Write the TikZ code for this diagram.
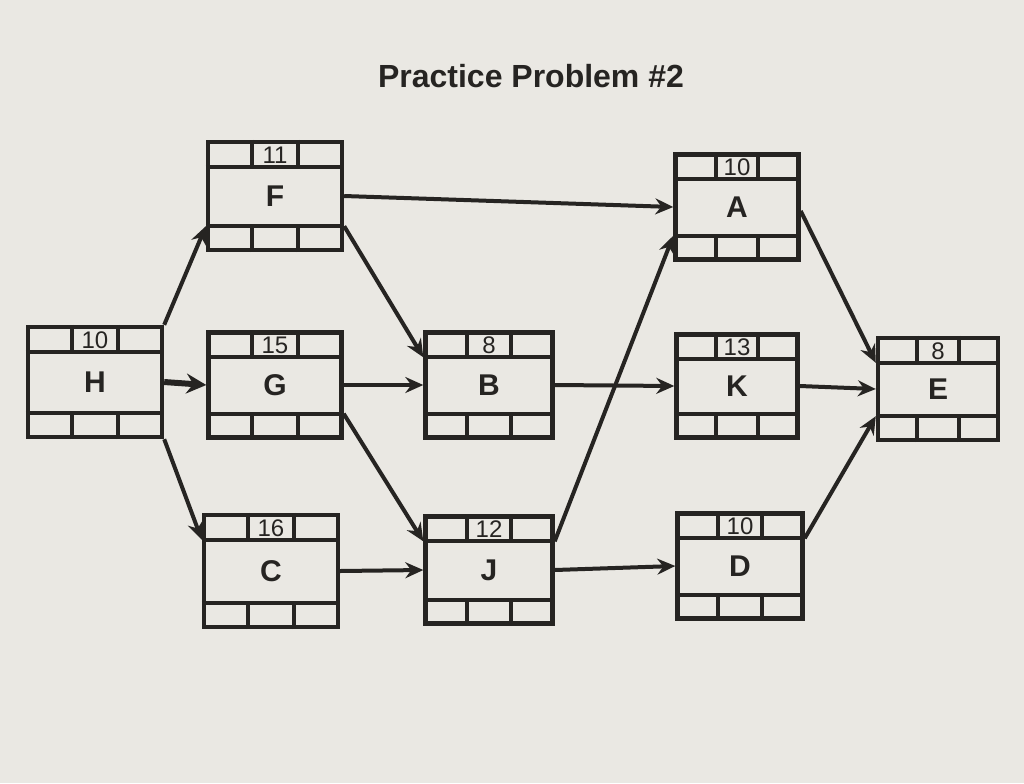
\documentclass[tikz,border=0pt]{standalone}
\usepackage{fontspec}
\setmainfont{Liberation Sans}
\usetikzlibrary{arrows.meta,calc}
\definecolor{paper}{RGB}{234,232,227}
\definecolor{ink}{RGB}{38,36,34}
\tikzset{
  actnode/.style={draw=ink, line width=2.2pt, fill=paper, inner sep=0pt,
    font=\bfseries\fontsize{15}{17}\selectfont, text=ink},
  boxline/.style={draw=ink, line width=2pt},
  durtext/.style={font=\fontsize{12}{14}\selectfont, text=ink, inner sep=0pt, text depth=0pt},
  conn/.style={draw=ink, line width=2pt, -{Stealth[length=9pt,width=8pt,inset=3pt]}},
  fatconn/.style={draw=ink, line width=3pt, -{Stealth[length=10pt,width=10pt,inset=3.5pt]}},
  titletext/.style={font=\bfseries\fontsize{16}{19}\selectfont, text=ink}
}
\newcommand\actbox[7]{%
  \node[actnode, minimum width=#4*0.5pt, minimum height=#5*0.5pt] (#1) at (#2,#3) {#6};
  \draw[boxline] ([yshift=-13.5pt]#1.north west) -- ([yshift=-13.5pt]#1.north east);
  \draw[boxline] ([yshift=13pt]#1.south west) -- ([yshift=13pt]#1.south east);
  \draw[boxline] ($(#1.north west)!1/3!(#1.north east)$) -- ++(0,27);
  \draw[boxline] ($(#1.north west)!2/3!(#1.north east)$) -- ++(0,27);
  \draw[boxline] ($(#1.south west)!1/3!(#1.south east)$) -- ++(0,-26);
  \draw[boxline] ($(#1.south west)!2/3!(#1.south east)$) -- ++(0,-26);
  \node[durtext] (#1-dur) at ([yshift=-7.6pt]#1.north) {#7};
}
\begin{document}
\begin{tikzpicture}[x=0.5pt,y=-0.5pt]
\path[fill=paper] (0,0) rectangle (1024,783);
\useasboundingbox (0,0) rectangle (1024,783);
\node[titletext] (title) at (531,76) {Practice Problem \#2};

\actbox{F}{275}{196}{134}{108}{F}{11}
\actbox{A}{737}{207}{123}{105}{A}{10}
\actbox{H}{95}{382}{134}{110}{H}{10}
\actbox{G}{275}{385}{133}{105}{G}{15}
\actbox{B}{489}{385}{127}{105}{B}{8}
\actbox{K}{737}{386}{121}{103}{K}{13}
\actbox{E}{938}{389}{120}{102}{E}{8}
\actbox{C}{271}{571}{134}{112}{C}{16}
\actbox{J}{489}{570}{127}{107}{J}{12}
\actbox{D}{740}{566}{125}{105}{D}{10}

\draw[conn] (H.north east) -- ([yshift=13pt]F.south west);
\draw[fatconn] (H.east) -- (G.west);
\draw[conn] (H.south east) -- ([yshift=-13.5pt]C.north west);
\draw[conn] (F.east) -- (A.west);
\draw[conn] ([yshift=13pt]F.south east) -- ([yshift=-13.5pt]B.north west);
\draw[conn] (G.east) -- (B.west);
\draw[conn] ([yshift=13pt]G.south east) -- ([yshift=-13.5pt]J.north west);
\draw[conn] (C.east) -- (J.west);
\draw[conn] (B.east) -- (K.west);
\draw[conn] ([yshift=-13.5pt]J.north east) -- ([yshift=13pt]A.south west);
\draw[conn] (J.east) -- (D.west);
\draw[conn] ([yshift=-2pt]A.east) -- ([yshift=-13.5pt]E.north west);
\draw[conn] (K.east) -- (E.west);
\draw[conn] ([yshift=-13.5pt]D.north east) -- ([yshift=13pt]E.south west);
\end{tikzpicture}
\end{document}
